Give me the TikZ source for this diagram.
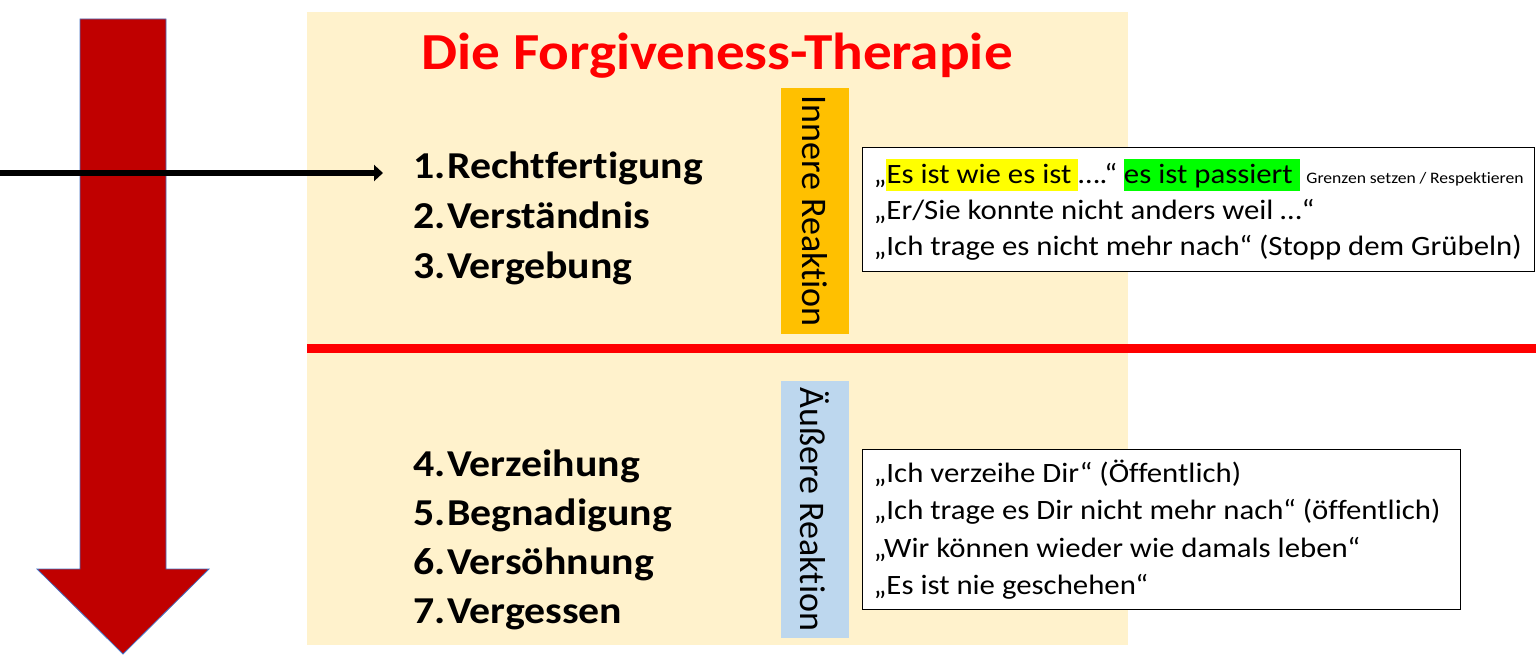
\documentclass[tikz,border=0pt]{standalone}
\usepackage{fontspec}
\setmainfont{Carlito}[FakeStretch=1.1,Ligatures=NoCommon]
\newfontfamily\rotfont{Carlito}[Ligatures=NoCommon]
\usetikzlibrary{arrows.meta}
\definecolor{beige}{HTML}{FFF2CC}
\definecolor{arrowred}{HTML}{C00000}
\definecolor{arrowedge}{HTML}{4472C4}
\definecolor{innerc}{HTML}{FFC000}
\definecolor{outerc}{HTML}{BDD7EE}
\definecolor{hlyellow}{HTML}{FFFF00}
\definecolor{hlgreen}{HTML}{00FF00}
\newcommand{\hlbox}[2]{{\setlength\fboxsep{0pt}\colorbox{#1}{\rule[-0.3em]{0pt}{1.15em}#2}}}
\newcommand{\numitem}[2]{\makebox[34pt][l]{#1}#2}
\tikzset{
  listitem/.style={anchor=base west, inner sep=0pt, font=\bfseries\fontsize{38}{49}\selectfont},
  reactbox/.style={rotate=-90, inner sep=0pt, minimum height=68pt, font=\rotfont\fontsize{36}{40}\selectfont},
  quotebox/.style={draw=black, line width=1.2pt, fill=white, anchor=north west, align=flush left, inner xsep=11pt, inner ysep=0pt, font=\fontsize{28}{36}\selectfont},
}
\begin{document}
\begin{tikzpicture}[x=1pt,y=-1pt]
\useasboundingbox (0,0) rectangle (1536,671);
% background panel
\fill[beige] (307,12) rectangle (1128,645);
% big red arrow
\filldraw[fill=arrowred, draw=arrowedge, line width=0.8pt]
  (80,19) -- (166,19) -- (166,569) -- (209,569) -- (123,654) -- (37,569) -- (80,569) -- cycle;
% title
\node[anchor=base, inner sep=0pt, text=red, font=\bfseries\fontsize{52}{60}\selectfont] (title) at (717,70) {Die Forgiveness-Therapie};
% list
\node[listitem] (l1) at (413,179) {\numitem{1.}{Rechtfertigung}};
\node[listitem] (l2) at (413,228) {\numitem{2.}{Verständnis}};
\node[listitem] (l3) at (413,278) {\numitem{3.}{Vergebung}};
\node[listitem] (l4) at (413,476) {\numitem{4.}{Verzeihung}};
\node[listitem] (l5) at (413,525) {\numitem{5.}{Begnadigung}};
\node[listitem] (l6) at (413,574) {\numitem{6.}{Versöhnung}};
\node[listitem] (l7) at (413,623) {\numitem{7.}{Vergessen}};
% black arrow
\coordinate (as) at (0,173);
\coordinate (ae) at (383,173);
\draw[line width=6.5pt, -{Triangle[length=9pt,width=16pt]}] (as) -- (ae);
% red separator
\coordinate (rs) at (307,348);
\coordinate (re) at (1536,348);
\draw[red, line width=9pt] (rs) -- (re);
% reaction labels
\node[reactbox, fill=innerc, minimum width=246pt] (inner) at (815,211) {Innere Reaktion};
\node[reactbox, fill=outerc, minimum width=257pt] (outer) at (815,509.5) {Äußere Reaktion};
% quote boxes
\node[quotebox, text width=650pt, minimum height=124pt] (q1) at (862,147) {%
„\hlbox{hlyellow}{Es ist wie es ist }….“ \hlbox{hlgreen}{es ist passiert } {\fontsize{16}{18}\selectfont Grenzen setzen / Respektieren}\\
„Er/Sie konnte nicht anders weil …“\\
„Ich trage es nicht mehr nach“ (Stopp dem Grübeln)};
\node[quotebox, text width=576pt, minimum height=160pt, font=\fontsize{28}{37.5}\selectfont] (q2) at (862,449) {%
„Ich verzeihe Dir“ (Öffentlich)\\
„Ich trage es Dir nicht mehr nach“ (öffentlich)\\
„Wir können wieder wie damals leben“\\
„Es ist nie geschehen“};
\end{tikzpicture}
\end{document}
